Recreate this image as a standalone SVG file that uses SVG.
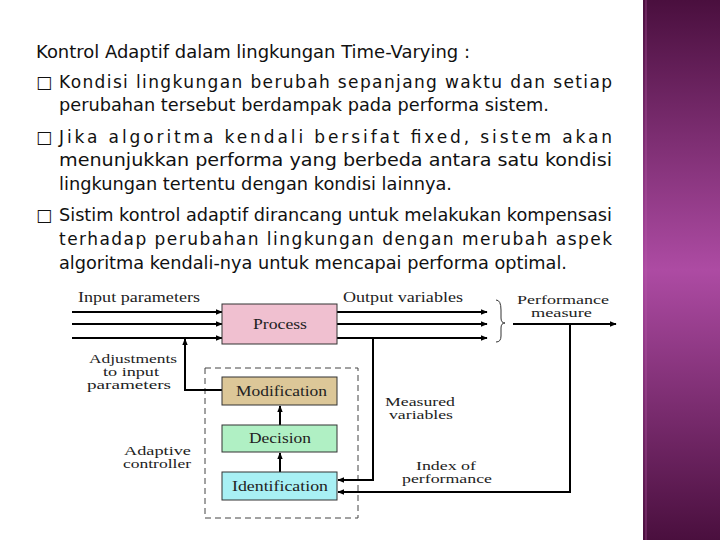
<svg xmlns="http://www.w3.org/2000/svg" width="720" height="540" viewBox="0 0 720 540">
<defs>
<linearGradient id="band" x1="0" y1="0" x2="0" y2="1">
<stop offset="0" stop-color="#4a0f3e"/><stop offset="0.5" stop-color="#ad4ba3"/><stop offset="1" stop-color="#4a0f3e"/>
</linearGradient>
<marker id="ar" viewBox="0 0 10 10" refX="9" refY="5" markerWidth="7" markerHeight="7" markerUnits="userSpaceOnUse" orient="auto"><path d="M0,1 L10,5 L0,9 Z" fill="#000"/></marker>
<style>
.t{font-family:"DejaVu Sans",sans-serif;font-size:17px;fill:#111}
.d{font-family:"Liberation Serif",serif;font-size:14px;fill:#222}
.s{font-family:"Liberation Serif",serif;font-size:12px;fill:#222}
.ln{stroke:#000;stroke-width:2;fill:none}
.box{stroke:#333;stroke-width:1}
</style>
</defs>
<rect width="720" height="540" fill="#fff"/>
<rect x="643" y="0" width="77" height="540" fill="url(#band)"/>
<line x1="646" y1="0" x2="646" y2="540" stroke="#c060b0" stroke-width="1" opacity="0.5"/>
<g id="text">
<text class="t" x="36" y="58" textLength="434" lengthAdjust="spacingAndGlyphs">Kontrol Adaptif dalam lingkungan Time-Varying :</text>
<text class="t" x="36" y="88">□</text>
<text class="t" x="59" y="88" textLength="553" lengthAdjust="spacing">Kondisi lingkungan berubah sepanjang waktu dan setiap</text>
<text class="t" x="59" y="111" textLength="490" lengthAdjust="spacingAndGlyphs">perubahan tersebut berdampak pada performa sistem.</text>
<text class="t" x="36" y="143">□</text>
<text class="t" x="59" y="143" textLength="553" lengthAdjust="spacing">Jika algoritma kendali bersifat fixed, sistem akan</text>
<text class="t" x="59" y="166" textLength="553" lengthAdjust="spacingAndGlyphs">menunjukkan performa yang berbeda antara satu kondisi</text>
<text class="t" x="59" y="190" textLength="393" lengthAdjust="spacingAndGlyphs">lingkungan tertentu dengan kondisi lainnya.</text>
<text class="t" x="36" y="221">□</text>
<text class="t" x="59" y="221" textLength="553" lengthAdjust="spacingAndGlyphs">Sistim kontrol adaptif dirancang untuk melakukan kompensasi</text>
<text class="t" x="59" y="245" textLength="553" lengthAdjust="spacing">terhadap perubahan lingkungan dengan merubah aspek</text>
<text class="t" x="59" y="269" textLength="508" lengthAdjust="spacingAndGlyphs">algoritma kendali-nya untuk mencapai performa optimal.</text>
</g>
<rect x="205" y="368" width="153" height="150" fill="none" stroke="#444" stroke-dasharray="6,4"/>
<g id="connectors">
<line class="ln" x1="72" y1="312" x2="222" y2="312" marker-end="url(#ar)"/>
<line class="ln" x1="72" y1="324" x2="222" y2="324" marker-end="url(#ar)"/>
<line class="ln" x1="72" y1="338" x2="222" y2="338" marker-end="url(#ar)"/>
<line class="ln" x1="337" y1="312" x2="487" y2="312" marker-end="url(#ar)"/>
<line class="ln" x1="337" y1="324" x2="487" y2="324" marker-end="url(#ar)"/>
<line class="ln" x1="337" y1="338" x2="487" y2="338" marker-end="url(#ar)"/>
<path d="M496,300 Q501,300 501,310 L501,318 Q501,323 505,323 Q501,323 501,328 L501,336 Q501,342 496,342" fill="none" stroke="#333" stroke-width="1"/>
<line class="ln" x1="513" y1="324" x2="616" y2="324" marker-end="url(#ar)"/>
<polyline class="ln" points="222,390 185,390 185,339" marker-end="url(#ar)"/>
<line class="ln" x1="280" y1="425" x2="280" y2="406" marker-end="url(#ar)"/>
<line class="ln" x1="280" y1="472" x2="280" y2="453" marker-end="url(#ar)"/>
<polyline class="ln" points="373,338 373,480 338,480" marker-end="url(#ar)"/>
<polyline class="ln" points="570,324 570,492 338,492" marker-end="url(#ar)"/>
</g>
<g id="process"><rect class="box" x="222" y="304" width="115" height="40" fill="#f0c0d0"/><text class="d" x="253" y="329" textLength="54" lengthAdjust="spacingAndGlyphs">Process</text></g>
<g id="modification"><rect class="box" x="222" y="377" width="115" height="28" fill="#dcc798"/><text class="d" x="236" y="396" textLength="91" lengthAdjust="spacingAndGlyphs">Modification</text></g>
<g id="decision"><rect class="box" x="222" y="425" width="115" height="27" fill="#b0f0c4"/><text class="d" x="249" y="443" textLength="62" lengthAdjust="spacingAndGlyphs">Decision</text></g>
<g id="identification"><rect class="box" x="222" y="472" width="115" height="28" fill="#a8f0f4"/><text class="d" x="232" y="491" textLength="96" lengthAdjust="spacingAndGlyphs">Identification</text></g>
<g id="labels">
<text class="d" x="78" y="302" textLength="122" lengthAdjust="spacingAndGlyphs">Input parameters</text>
<text class="d" x="343" y="302" textLength="120" lengthAdjust="spacingAndGlyphs">Output variables</text>
<text class="s" x="517" y="304" textLength="92" lengthAdjust="spacingAndGlyphs">Performance</text>
<text class="s" x="531" y="317" textLength="61" lengthAdjust="spacingAndGlyphs">measure</text>
<text class="s" x="89" y="363" textLength="88" lengthAdjust="spacingAndGlyphs">Adjustments</text>
<text class="s" x="103" y="376" textLength="56" lengthAdjust="spacingAndGlyphs">to input</text>
<text class="s" x="87" y="389" textLength="84" lengthAdjust="spacingAndGlyphs">parameters</text>
<text class="s" x="124" y="455" textLength="67" lengthAdjust="spacingAndGlyphs">Adaptive</text>
<text class="s" x="123" y="468" textLength="68" lengthAdjust="spacingAndGlyphs">controller</text>
<text class="s" x="385" y="406" textLength="70" lengthAdjust="spacingAndGlyphs">Measured</text>
<text class="s" x="389" y="419" textLength="64" lengthAdjust="spacingAndGlyphs">variables</text>
<text class="s" x="416" y="470" textLength="60" lengthAdjust="spacingAndGlyphs">Index of</text>
<text class="s" x="402" y="483" textLength="90" lengthAdjust="spacingAndGlyphs">performance</text>
</g>
</svg>
